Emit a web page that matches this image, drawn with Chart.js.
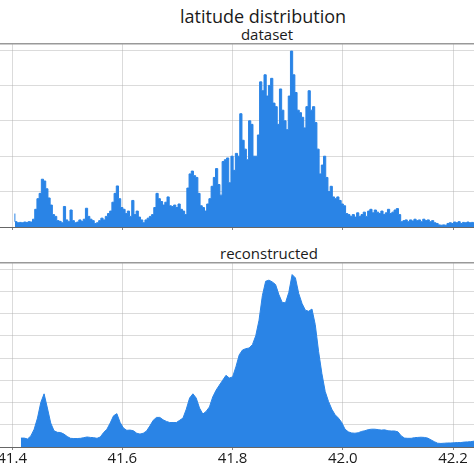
<!DOCTYPE html>
<html>
<head>
<meta charset="utf-8">
<script src="https://cdn.jsdelivr.net/npm/chart.js@4/dist/chart.umd.min.js"></script>
<style>
  body { margin: 0; width: 474px; height: 474px; overflow: hidden; background: #fff; font-family: "Open Sans", sans-serif; color: #1a1a1a; }
  .lbl { position: absolute; text-align: center; white-space: nowrap; }
  .box { position: absolute; left: 0; width: 474px; }
</style>
</head>
<body>
<div class="lbl" style="top:6px; left:-84px; width:694px; font-size:18px; line-height:20px;">latitude distribution</div>
<div class="lbl" style="top:26px; left:-207px; width:948px; font-size:15px; line-height:17px;">dataset</div>
<div class="box" style="top:40px; height:191px;"><canvas id="top"></canvas></div>
<div class="lbl" style="top:245px; left:-205px; width:948px; font-size:15px; line-height:17px;">reconstructed</div>
<div class="box" style="top:259px; height:215px;"><canvas id="bottom"></canvas></div>
<script>
// axis range (latitude) and tick labels
const xMin = 41.378;
const xMax = 42.238;
const tickValues = [41.4, 41.6, 41.8, 42.0, 42.2];

// dataset histogram: bin start + width, counts in grid units
const datasetStart = 41.405;
const datasetBin = 0.004;
const datasetCounts = [
  0.38, 0.15, 0.12, 0.13, 0.12, 0.14, 0.13, 0.15, 0.14, 0.22,
  0.5, 0.8, 0.95, 1.35, 1.3, 1.08, 0.82, 0.62, 0.35, 0.3,
  0.18, 0.16, 0.12, 0.58, 0.2, 0.15, 0.48, 0.18, 0.12, 0.14,
  0.2, 0.16, 0.22, 0.53, 0.3, 0.22, 0.18, 0.1, 0.12, 0.18,
  0.25, 0.2, 0.3, 0.38, 0.45, 0.7, 0.95, 1.16, 0.8, 0.55,
  0.5, 0.38, 0.45, 0.3, 0.75, 0.35, 0.45, 0.28, 0.2, 0.12,
  0.2, 0.25, 0.3, 0.35, 0.55, 0.95, 0.8, 0.72, 0.62, 0.7,
  0.85, 0.6, 0.58, 0.62, 0.55, 0.65, 0.5, 0.45, 0.35, 1.1,
  1.5, 1.58, 1.45, 1.4, 0.95, 0.6, 0.55, 0.45, 0.65, 0.8,
  1.15, 1.4, 1.65, 1.2, 0.9, 1.85, 1.9, 1.95, 1.25, 2.0,
  1.6, 2.08, 2.0, 3.2, 2.45, 2.2, 1.9, 3.0, 2.9, 2.0,
  2.0, 2.6, 4.1, 3.85, 4.3, 3.7, 4.0, 4.2, 3.5, 3.4,
  2.9, 3.9, 3.3, 3.0, 2.75, 3.7, 4.97, 4.3, 3.8, 3.3,
  3.23, 3.1, 2.8, 3.4, 3.85, 3.3, 3.4, 2.95, 2.2, 1.5,
  1.75, 2.0, 1.4, 1.0, 1.15, 0.85, 0.8, 0.85, 0.75, 0.65,
  0.6, 0.38, 0.35, 0.3, 0.35, 0.28, 0.4, 0.3, 0.35, 0.42,
  0.3, 0.45, 0.5, 0.4, 0.48, 0.42, 0.38, 0.45, 0.35, 0.4,
  0.5, 0.38, 0.42, 0.48, 0.52, 0.35, 0.15, 0.18, 0.2, 0.15,
  0.2, 0.17, 0.22, 0.18, 0.2, 0.15, 0.22, 0.18, 0.2, 0.15,
  0.18, 0.12, 0.1, 0.06, 0.05, 0.06, 0.05, 0.1, 0.12, 0.1,
  0.14, 0.12, 0.15, 0.1, 0.13, 0.12, 0.14, 0.12, 0.13, 0.12
];

// reconstructed density
const reconStart = 41.416;
const reconStep = 0.006;
const reconValues = [
  0.4, 0.4, 0.36, 0.5, 0.8, 1.3, 2.0, 2.39, 1.75, 1.08,
  0.73, 0.66, 0.65, 0.58, 0.47, 0.39, 0.38, 0.38, 0.39, 0.42,
  0.45, 0.43, 0.42, 0.39, 0.45, 0.65, 0.8, 1.08, 1.4, 1.5,
  1.1, 0.85, 0.75, 0.76, 0.73, 0.62, 0.58, 0.62, 0.72, 0.95,
  1.2, 1.33, 1.33, 1.22, 1.15, 1.1, 1.1, 1.1, 1.2, 1.3,
  1.7, 2.2, 2.39, 2.2, 1.75, 1.48, 1.6, 1.8, 2.25, 2.55,
  2.78, 3.0, 3.22, 3.1, 3.15, 3.6, 4.14, 4.36, 4.42, 4.45,
  4.6, 5.0, 5.7, 6.8, 7.45, 7.5, 7.42, 7.3, 6.85, 6.5,
  6.48, 6.95, 7.75, 7.6, 6.9, 6.45, 6.15, 6.1, 6.2, 5.5,
  4.3, 3.3, 2.5, 2.05, 1.7, 1.45, 1.3, 1.1, 0.8, 0.68,
  0.63, 0.62, 0.64, 0.7, 0.73, 0.78, 0.8, 0.8, 0.78, 0.76,
  0.77, 0.73, 0.72, 0.72, 0.68, 0.5, 0.4, 0.39, 0.39, 0.42,
  0.43, 0.44, 0.43, 0.4, 0.32, 0.24, 0.17, 0.16, 0.17, 0.18,
  0.18, 0.19, 0.2, 0.2, 0.22, 0.23, 0.24, 0.26
];

const blue = '#2a84e6';
const gridColor = 'rgba(175,175,175,0.45)';
const font = { family: '"Open Sans", sans-serif', size: 15 };

function toPoints(start, step, values) {
    return values.map((v, i) => ({ x: start + i * step, y: v }));
}

function makeChart(id, data, yMax, showLabels, stepped) {
    const ctx = document.getElementById(id).getContext('2d');
    return new Chart(ctx, {
        type: 'line',
        data: {
            datasets: [{
                data: data,
                borderColor: blue,
                backgroundColor: blue,
                borderWidth: 1,
                pointRadius: 0,
                fill: 'origin',
                tension: 0,
                stepped: stepped
            }]
        },
        options: {
            responsive: true,
            maintainAspectRatio: false,
            animation: false,
            events: [],
            layout: { padding: { top: 4, bottom: showLabels ? 0 : 1, left: 0, right: 0 } },
            plugins: { legend: { display: false }, tooltip: { enabled: false } },
            scales: {
                x: {
                    type: 'linear',
                    min: xMin,
                    max: xMax,
                    z: 1,
                    afterBuildTicks: (scale) => { scale.ticks = tickValues.map(v => ({ value: v })); },
                    afterFit: (scale) => {
                        // labels may run off the edges, like the cropped original
                        scale.paddingLeft = 0;
                        scale.paddingRight = 0;
                        if (showLabels) scale.height = 27;
                    },
                    ticks: {
                        display: showLabels,
                        color: '#1a1a1a',
                        font: font,
                        padding: 0,
                        maxRotation: 0,
                        autoSkip: false,
                        callback: (v) => v.toFixed(1)
                    },
                    grid: { color: gridColor, tickLength: 3, drawTicks: true, tickColor: '#888' },
                    border: { display: true, color: '#666', width: 1 }
                },
                xTop: {
                    type: 'linear',
                    position: 'top',
                    min: xMin,
                    max: xMax,
                    ticks: { display: false },
                    grid: { display: false, drawTicks: false },
                    border: { display: true, color: '#999', width: 1.5 }
                },
                y: {
                    min: 0,
                    max: yMax,
                    z: 1,
                    ticks: { display: false, stepSize: 1, includeBounds: false },
                    grid: { color: gridColor, drawTicks: false },
                    border: { display: false }
                }
            }
        }
    });
}

makeChart('top', toPoints(datasetStart, datasetBin, datasetCounts), 5.17, false, 'after');
makeChart('bottom', toPoints(reconStart, reconStep, reconValues), 8.27, true, false);
</script>
</body>
</html>
